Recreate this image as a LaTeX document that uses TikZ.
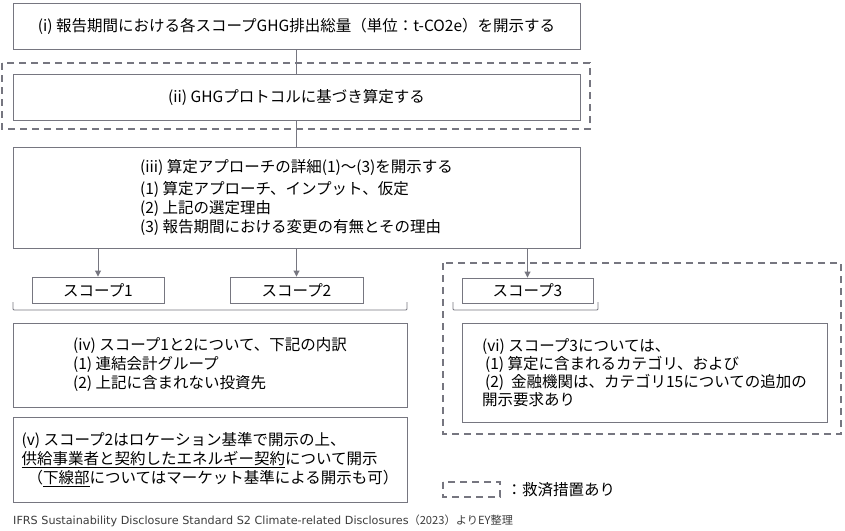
\documentclass[tikz,border=0pt]{standalone}
\usepackage{fontspec}
\setmainfont{Noto Sans CJK JP}
\newfontfamily\notefont{DejaVu Sans}
\usepackage{tikz}
\usetikzlibrary{arrows.meta}
\definecolor{framegray}{RGB}{118,118,128}
\definecolor{notegray}{RGB}{60,60,60}

\begin{document}
\begin{tikzpicture}[x=1pt, y=-1pt,
	relief/.style={draw=framegray, line width=1.6pt, dash pattern=on 7pt off 5pt},
	box/.style={draw=framegray, line width=0.9pt, fill=white, align=left,
		font=\fontsize{15.5pt}{19pt}\selectfont}]
	\useasboundingbox (0,0) rectangle (845,530);

	% relief frames
	\draw [relief] (2,63) rectangle (590,129);
	\draw [relief] (443,263) rectangle (841,434);
	\draw [relief] (443,482) rectangle (500,497);

	\begin{scope}[every node/.style = {box}]
		\node [minimum width=567pt, minimum height=46pt] (i) at (296.5,26) {(i) 報告期間における各スコープGHG排出総量（単位：t-CO2e）を開示する};
		\node [minimum width=567pt, minimum height=46pt] (ii) at (296.5,97.5) {(ii) GHGプロトコルに基づき算定する};
		\node [minimum width=567pt, minimum height=101pt] (iii) at (296.5,197.5) {(iii) 算定アプローチの詳細(1)〜(3)を開示する\\[3pt]
			(1) 算定アプローチ、インプット、仮定\\
			(2) 上記の選定理由\\
			(3) 報告期間における変更の有無とその理由};
		\node [minimum width=132pt, minimum height=26pt] (s1) at (98,290) {スコープ1};
		\node [minimum width=133pt, minimum height=26pt] (s2) at (296.5,290) {スコープ2};
		\node [minimum width=131pt, minimum height=25pt] (s3) at (527.5,290.5) {スコープ3};
		\node [minimum width=394pt, minimum height=84pt] (iv) at (210,365) {(iv) スコープ1と2について、下記の内訳\\
			(1) 連結会計グループ\\
			(2) 上記に含まれない投資先};
		\node [minimum width=394pt, minimum height=85pt] (v) at (210,459.5) {(v) スコープ2はロケーション基準で開示の上、\\
			\underline{供給事業者と契約したエネルギー契約}について開示\\
			\hspace{6pt}（\underline{下線部}についてはマーケット基準による開示も可）};
		\node [minimum width=365pt, minimum height=99pt, font=\fontsize{15.5pt}{18pt}\selectfont] (vi) at (644.5,372.5) {(vi) スコープ3については、\\
			\hspace{3pt}(1) 算定に含まれるカテゴリ、および\\
			\hspace{3pt}(2)\ \ 金融機関は、カテゴリ15についての追加の\\
			開示要求あり};
	\end{scope}

	% brackets under the scopes
	\draw [framegray, line width=0.9pt, rounded corners=1pt] (13,302) |- (407,310) -- (407,302);
	\draw [framegray, line width=0.9pt, rounded corners=1pt] (453,302) |- (598,310) -- (598,302);

	\begin{scope}[>={Triangle[width=6pt, length=6pt, framegray]},
			every edge/.style={draw=framegray, line width=0.9pt}]
		\path (i) edge (ii);
		\path (ii) edge (iii);
		\path [->] (iii.south -| s1.north) edge (s1);
		\path [->] (iii.south -| s2.north) edge (s2);
		\path [->] (iii.south -| s3.north) edge (s3);
	\end{scope}

	\node [anchor=west, font=\fontsize{15.5pt}{19pt}\selectfont] (legend) at (503,490) {：救済措置あり};
	\node [anchor=west, inner sep=0pt, text=notegray, font=\fontsize{11.2pt}{13pt}\selectfont] (source) at (13,521)
		{{\notefont IFRS Sustainability Disclosure Standard S2 Climate-related Disclosures}（2023）よりEY整理};
\end{tikzpicture}
\end{document}
